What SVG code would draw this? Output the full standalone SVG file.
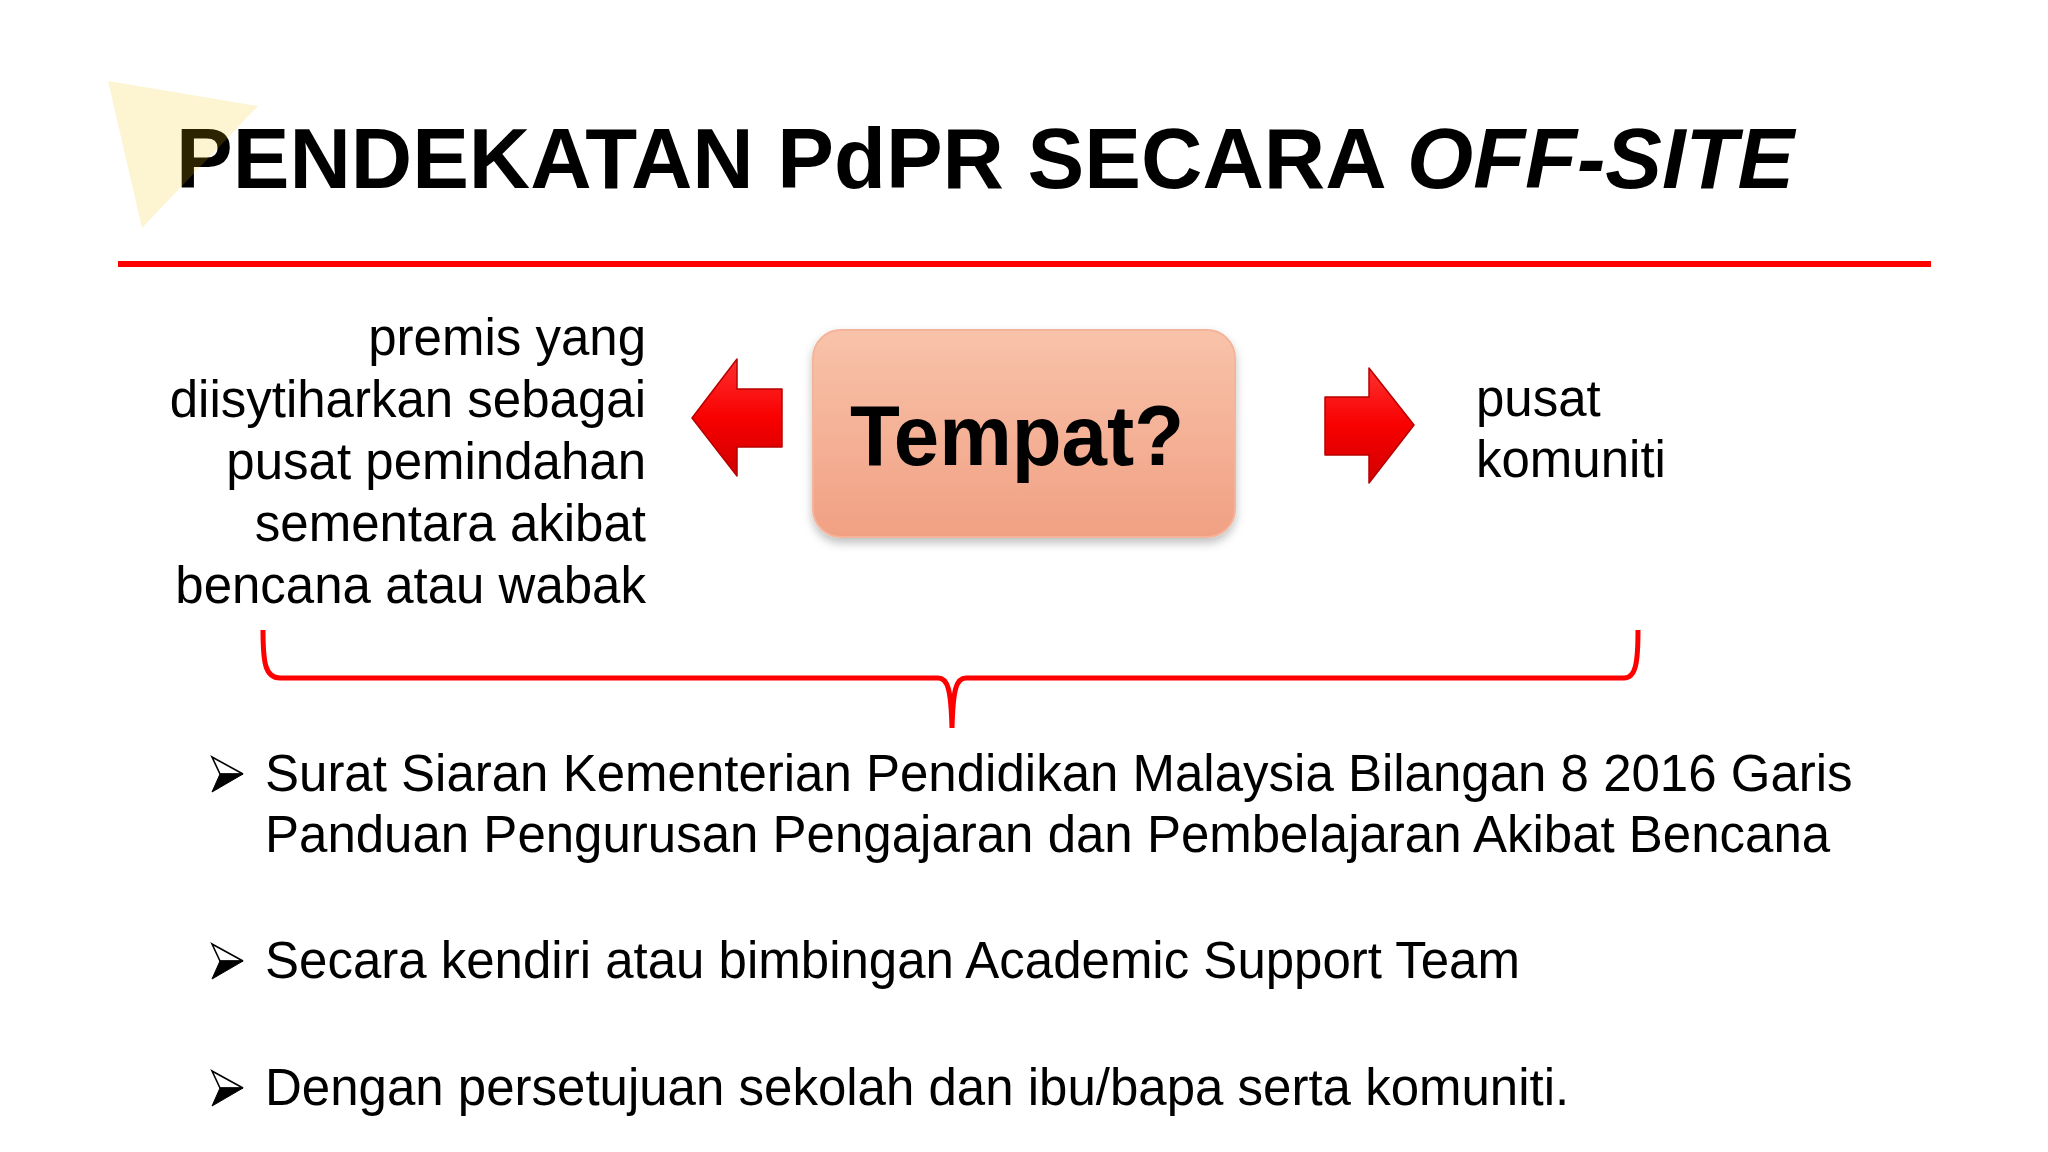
<svg xmlns="http://www.w3.org/2000/svg" width="2048" height="1152" viewBox="0 0 2048 1152">
<defs>
<style>
.t{font-family:"Liberation Sans",Arial,sans-serif;fill:#000}
.body{font-size:51px}
</style>
<linearGradient id="boxg" x1="0" y1="0" x2="0" y2="1">
<stop offset="0" stop-color="#f8c3aa"/>
<stop offset="1" stop-color="#f1a083"/>
</linearGradient>
<linearGradient id="arrg" x1="0" y1="0" x2="0" y2="1">
<stop offset="0" stop-color="#ff3030"/>
<stop offset="0.5" stop-color="#f80000"/>
<stop offset="1" stop-color="#d00000"/>
</linearGradient>
<filter id="sh" x="-10%" y="-10%" width="120%" height="130%">
<feDropShadow dx="0" dy="5" stdDeviation="5" flood-color="#000" flood-opacity="0.25"/>
</filter>
<g id="bul">
<polygon points="0,-34 31,-17 8,-17" fill="#ffffff" stroke="#000" stroke-width="1.6" stroke-linejoin="miter"/>
<polygon points="8,-17 31,-17 0,1" fill="#000" stroke="#000" stroke-width="1" stroke-linejoin="miter"/>
</g>
</defs>
<rect width="2048" height="1152" fill="#ffffff"/>

<g id="title">
<text class="t" x="176" y="188" font-size="85" font-weight="bold">PENDEKATAN PdPR SECARA <tspan font-style="italic">OFF-SITE</tspan></text>
<polygon points="108,81 258,106 142,228" fill="#f5c400" fill-opacity="0.18"/>
<line x1="118" y1="264" x2="1931" y2="264" stroke="#ff0000" stroke-width="6"/>
</g>

<g id="left-text">
<text class="t body" text-anchor="end" x="646" y="355">premis yang</text>
<text class="t body" text-anchor="end" x="646" y="417">diisytiharkan sebagai</text>
<text class="t body" text-anchor="end" x="646" y="479">pusat pemindahan</text>
<text class="t body" text-anchor="end" x="646" y="541">sementara akibat</text>
<text class="t body" text-anchor="end" x="646" y="603">bencana atau wabak</text>
</g>

<g id="center-box">
<rect x="813" y="330" width="422" height="207" rx="28" fill="url(#boxg)" stroke="#f4b49a" stroke-width="2" filter="url(#sh)"/>
<text class="t" x="1017" y="465" font-size="86" font-weight="bold" text-anchor="middle" textLength="334" lengthAdjust="spacingAndGlyphs">Tempat?</text>
</g>

<g id="right-text">
<text class="t body" x="1476" y="416">pusat</text>
<text class="t body" x="1476" y="477">komuniti</text>
</g>

<g id="connectors">
<polygon id="arrow-left" points="692,418 737,359 737,389 782,389 782,447 737,447 737,476" fill="url(#arrg)" stroke="#b80000" stroke-width="1.5" stroke-linejoin="round"/>
<polygon id="arrow-right" points="1325,397 1369,397 1369,368 1414,425 1369,483 1369,455 1325,455" fill="url(#arrg)" stroke="#b80000" stroke-width="1.5" stroke-linejoin="round"/>
<path id="brace" d="M263,630 C263,662 265,678 280,678 L938,678 C948,678 951,690 952,728 C953,690 956,678 966,678 L1624,678 C1636,678 1638,662 1638,630" fill="none" stroke="#ff0000" stroke-width="5"/>
</g>

<g id="bullets">
<use href="#bul" x="212" y="791"/>
<text class="t body" x="265" y="791">Surat Siaran Kementerian Pendidikan Malaysia Bilangan 8 2016 Garis</text>
<text class="t body" x="265" y="852">Panduan Pengurusan Pengajaran dan Pembelajaran Akibat Bencana</text>
<use href="#bul" x="212" y="978"/>
<text class="t body" x="265" y="978">Secara kendiri atau bimbingan Academic Support Team</text>
<use href="#bul" x="212" y="1105"/>
<text class="t body" x="265" y="1105">Dengan persetujuan sekolah dan ibu/bapa serta komuniti.</text>
</g>
</svg>
